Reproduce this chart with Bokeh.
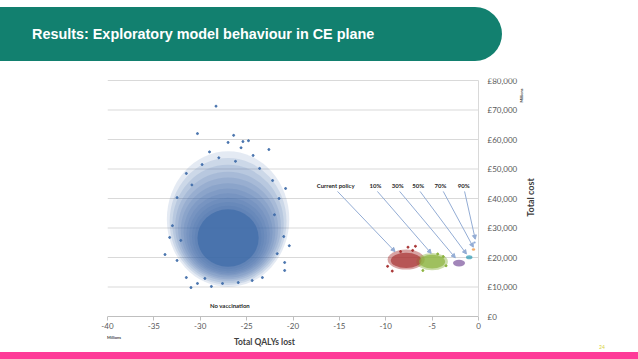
from bokeh.plotting import figure
from bokeh.layouts import column
from bokeh.models import (ColumnDataSource, Arrow, NormalHead, Label, LabelSet,
                          FixedTicker, Range1d, Div)
from bokeh.embed import file_html
from bokeh.resources import INLINE
from bokeh.core.properties import value

# ---------------- data ----------------
x_ticks = [-40, -35, -30, -25, -20, -15, -10, -5, 0]
x_tick_labels = ["-40", "-35", "-30", "-25", "-20", "-15", "-10", "-5", "0"]
y_ticks = [0, 10000, 20000, 30000, 40000, 50000, 60000, 70000, 80000]
y_tick_labels = ["£0", "£10,000", "£20,000", "£30,000", "£40,000",
                 "£50,000", "£60,000", "£70,000", "£80,000"]

# simulation clouds (centre and spread of the dense part); QALYs lost (millions), cost (£ millions)
cloud_names = ["No vaccination", "Current policy", "10%", "30%", "50%", "70%", "90%"]
cloud_x = [-27.0, -7.8, -5.0, -2.1, -1.0, -0.54, -0.43]
cloud_y = [26600, 19000, 18600, 18100, 20100, 22700, 25100]
cloud_w = [6.6, 3.3, 2.8, 1.3, 0.7, 0.36, 0.25]
cloud_h = [19500, 5200, 4600, 2300, 1400, 900, 650]

# fainter layers around the no-vaccination cloud (outermost first)
halo_x = [-27.0, -27.0, -27.0, -27.0, -27.0, -27.0, -27.0, -27.0, -27.0, -27.0, -27.0]
halo_y = [33000, 32200, 31400, 30600, 29900, 29200, 28600, 28000, 27500, 27100, 26800]
halo_w = [13.2, 12.6, 12.0, 11.4, 10.8, 10.2, 9.6, 9.0, 8.4, 7.8, 7.2]
halo_h = [46000, 43000, 40000, 37000, 34500, 32000, 29500, 27500, 25500, 23500, 21500]

# fainter layers around current policy and 10% clouds
small_halo_x = [-7.8, -5.0]
small_halo_y = [19300, 18600]
small_halo_w = [4.0, 3.4]
small_halo_h = [6800, 5800]

# scattered outlying simulations of the no-vaccination cloud
blue_out_x = [-28.3, -30.3, -26.4, -27.0, -25.4, -24.8, -22.6, -33.8, -33.3, -32.5,
              -20.4, -20.9, -20.8, -31.0, -30.3, -28.8, -27.6, -25.9, -31.5, -32.5,
              -24.3, -22.2, -21.5, -29.8, -21.0, -32.1, -20.9, -31.5, -23.3, -29.0,
              -25.6, -28.0, -23.6, -30.9, -22.0, -33.0, -24.4, -29.5, -26.2, -21.7]
blue_out_y = [71300, 62000, 61400, 59000, 59300, 59600, 56600, 21000, 26800, 19000,
              24000, 18300, 43400, 9800, 11200, 10200, 11200, 11500, 48500, 40300,
              54600, 46100, 40000, 51500, 27100, 25800, 15600, 13200, 13200, 55800,
              57200, 53800, 50200, 44600, 34500, 30800, 12200, 12900, 52600, 21300]

red_out_x = [-7.6, -9.8, -7.1, -8.4, -9.3, -6.8]
red_out_y = [23500, 17000, 22400, 22000, 15400, 23800]
green_out_x = [-3.5, -4.4, -6.0, -3.8]
green_out_y = [17200, 21200, 15600, 20300]

# annotation labels and arrows
policy_labels = ["Current policy", "10%", "30%", "50%", "70%", "90%"]
policy_label_x = [-15.4, -11.1, -8.7, -6.5, -4.1, -1.6]
policy_label_y = [44400, 44400, 44400, 44400, 44400, 44400]
arrow_x0 = [-15.2, -10.9, -8.5, -6.3, -3.8, -1.5]
arrow_y0 = [42400, 42400, 42400, 42400, 42400, 42400]
arrow_x1 = [-9.0, -5.1, -2.5, -1.3, -0.56, -0.35]
arrow_y1 = [22000, 21400, 19900, 21200, 23500, 26200]

# ---------------- styles / layout ----------------
cloud_colors = ["#3e6ca8", "#a93434", "#8cb33e", "#7a539b", "#2a98b2", "#ec8a2c", "#5e86c6"]
TEAL = "#12806f"
PINK = "#fe3b98"
ARROW = "#93acd4"
GRID = "#d9d9d9"
AXIS = "#bfbfbf"
FONT = "Lato"

PAGE_W = 638
HEAD_H = 61
FOOT_H = 25
MAIN_H = 359 - HEAD_H - FOOT_H          # 273
FRAME_L = 107                          # page x of -40
PX_PER_X = 9.275                       # pixels per million QALYs
ZERO_Y_PAGE = 316                      # page y of £0
PX_PER_Y = 236 / 80000.0
FRAME_TOP_PAGE = 78
FRAME_BOTTOM_PAGE = 320                # a little below £0 so its label is not cut
RIGHT_PANEL = 60

frame_w = PAGE_W - FRAME_L - RIGHT_PANEL
x_end = -40 + frame_w / PX_PER_X
y_start = -(FRAME_BOTTOM_PAGE - ZERO_Y_PAGE) / PX_PER_Y
y_end = (ZERO_Y_PAGE - FRAME_TOP_PAGE) / PX_PER_Y


def dx(page_x):
    return -40 + (page_x - FRAME_L) / PX_PER_X


def dy(page_y):
    return (ZERO_Y_PAGE - page_y) / PX_PER_Y


p = figure(width=PAGE_W, height=MAIN_H, x_range=Range1d(-40, x_end),
           y_range=Range1d(y_start, y_end), output_backend="svg", toolbar_location=None,
           y_axis_location="right", margin=0,
           min_border_left=FRAME_L, min_border_right=RIGHT_PANEL,
           min_border_top=FRAME_TOP_PAGE - HEAD_H,
           min_border_bottom=HEAD_H + MAIN_H - FRAME_BOTTOM_PAGE)
p.outline_line_color = None
p.background_fill_color = "white"
p.border_fill_color = "white"
p.xgrid.visible = False
p.ygrid.visible = False

# x axis (below); its ticks reach up to the £0 line
xa = p.xaxis[0]
xa.ticker = FixedTicker(ticks=x_ticks)
xa.bounds = (x_ticks[0], x_ticks[-1])
xa.major_label_overrides = dict(zip(x_ticks, x_tick_labels))
xa.axis_line_color = None
xa.major_tick_line_color = AXIS
xa.major_tick_in = 4
xa.major_tick_out = 0
xa.minor_tick_line_color = None
xa.major_label_text_font = FONT
xa.major_label_text_font_size = "8px"
xa.major_label_text_color = "#595959"
xa.major_label_standoff = 2

# y axis sits at x = 0 with labels on its right
ya = p.yaxis[0]
ya.fixed_location = 0
ya.ticker = FixedTicker(ticks=y_ticks)
ya.bounds = (y_ticks[0], y_ticks[-1])
ya.major_label_overrides = dict(zip(y_ticks, y_tick_labels))
ya.axis_line_color = GRID
ya.major_tick_in = 0
ya.major_tick_out = 0
ya.minor_tick_line_color = None
ya.major_label_text_font = FONT
ya.major_label_text_font_size = "8px"
ya.major_label_text_color = "#595959"
ya.major_label_standoff = 9

# horizontal gridlines across the plotted x extent only (the £0 one is the axis line)
grid_colors = [AXIS] + [GRID] * (len(y_ticks) - 1)
p.segment(x0=[x_ticks[0]] * len(y_ticks), x1=[x_ticks[-1]] * len(y_ticks),
          y0=y_ticks, y1=y_ticks, line_color=grid_colors, line_width=1)

# no-vaccination cloud: fading layers, outliers, dense core
for i in range(len(halo_x)):
    p.ellipse(x=[halo_x[i]], y=[halo_y[i]], width=[halo_w[i]], height=[halo_h[i]],
              fill_color=cloud_colors[0], fill_alpha=0.14, line_color=None)
p.scatter(x=blue_out_x, y=blue_out_y, size=2, color=cloud_colors[0], alpha=0.9)

for i in range(len(small_halo_x)):
    p.ellipse(x=[small_halo_x[i]], y=[small_halo_y[i]], width=[small_halo_w[i]],
              height=[small_halo_h[i]], fill_color=cloud_colors[i + 1], fill_alpha=0.45,
              line_color=None)
p.scatter(x=red_out_x, y=red_out_y, size=2, color=cloud_colors[1])

src = ColumnDataSource(dict(x=cloud_x, y=cloud_y, w=cloud_w, h=cloud_h,
                            c=cloud_colors, name=cloud_names))
p.ellipse(x="x", y="y", width="w", height="h", fill_color="c", fill_alpha=0.7,
          line_color=None, source=src)
p.scatter(x=green_out_x, y=green_out_y, size=2, color=cloud_colors[2])

# arrows and labels
asrc = ColumnDataSource(dict(x0=arrow_x0, y0=arrow_y0, x1=arrow_x1, y1=arrow_y1))
p.add_layout(Arrow(source=asrc, x_start="x0", y_start="y0", x_end="x1", y_end="y1",
                   line_color=ARROW, line_width=1,
                   end=NormalHead(size=4, fill_color=ARROW, line_color=ARROW)))
lsrc = ColumnDataSource(dict(x=policy_label_x, y=policy_label_y, t=policy_labels))
p.add_layout(LabelSet(source=lsrc, x="x", y="y", text="t", text_align="center",
                      text_baseline="middle", text_font=value(FONT),
                      text_font_style="bold", text_font_size="6px", text_color="#262626"))
p.add_layout(Label(x=cloud_x[0] + 0.2, y=3700, text=cloud_names[0], text_align="center",
                   text_baseline="middle", text_font=FONT, text_font_style="bold",
                   text_font_size="6px", text_color="#262626"))

# axis titles on the right
p.add_layout(Label(x=dx(530), y=dy(197), text="Total cost", angle=90, angle_units="deg",
                   text_align="center", text_baseline="middle", text_font=FONT,
                   text_font_style="bold", text_font_size="9px", text_color="#404040"))
p.add_layout(Label(x=dx(521), y=dy(95), text="Millions", angle=90, angle_units="deg",
                   text_align="center", text_baseline="middle", text_font=FONT,
                   text_font_style="bold", text_font_size="4px", text_color="#404040"))

# header banner
header = Div(width=PAGE_W, height=HEAD_H, margin=0, text=(
    '<div style="height:7px"></div>'
    '<div style="width:502px;height:54px;background:%s;border-radius:0 27px 27px 0;'
    'color:#ffffff;font-family:\'Liberation Sans\';font-weight:bold;font-size:14.4px;'
    'line-height:54px;padding-left:32px;box-sizing:border-box;white-space:nowrap;">'
    'Results: Exploratory model behaviour in CE plane</div>' % TEAL))

# footer: x-axis title, units, page number, pink band
footer = Div(width=PAGE_W, height=FOOT_H, margin=0, text=(
    '<div style="position:relative;width:638px;height:25px;font-family:Lato;color:#404040;">'
    '<div style="position:absolute;left:107px;top:1px;font-size:4px;font-weight:bold;'
    'line-height:6px;">Millions</div>'
    '<div style="position:absolute;left:234px;top:3px;font-size:8.5px;font-weight:bold;'
    'line-height:11px;white-space:nowrap;">Total QALYs lost</div>'
    '<div style="position:absolute;left:599px;top:10px;font-size:5px;color:#d8d23a;'
    'line-height:6px;">24</div>'
    '<div style="position:absolute;left:0px;top:18px;width:638px;height:7px;'
    'background:%s;"></div>'
    '</div>' % PINK))

layout = column(header, p, footer, spacing=0, margin=0)

open("out.html", "w").write(file_html(layout, INLINE))
